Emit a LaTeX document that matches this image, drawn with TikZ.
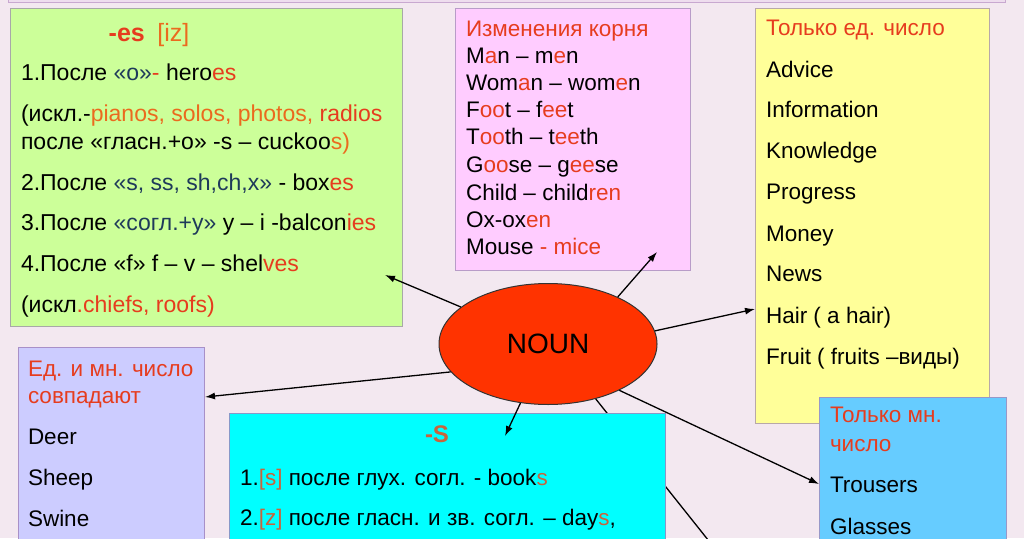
\documentclass[tikz,border=0pt]{standalone}
\usepackage{fontspec}
\setmainfont{Liberation Sans}
\usetikzlibrary{shapes.geometric,arrows.meta}
\definecolor{bgc}{HTML}{F3E8F0}
\definecolor{stripc}{HTML}{EEDDEE}
\definecolor{stripb}{HTML}{C8A8D0}
\definecolor{greenf}{HTML}{CCFF99}
\definecolor{greenb}{HTML}{A8A8A8}
\definecolor{pinkf}{HTML}{FFCCFF}
\definecolor{pinkb}{HTML}{B89CC8}
\definecolor{yellowf}{HTML}{FFFF99}
\definecolor{yellowb}{HTML}{B8A8A8}
\definecolor{lilacf}{HTML}{CCCCFF}
\definecolor{lilacb}{HTML}{A890C8}
\definecolor{cyanf}{HTML}{00FFFF}
\definecolor{cyanb}{HTML}{8898C8}
\definecolor{bluef}{HTML}{66CCFF}
\definecolor{blueb}{HTML}{9898C8}
\definecolor{nounf}{HTML}{FF3300}
\definecolor{hlred}{HTML}{E63C1E}
\definecolor{hlor}{HTML}{EB6A1E}
\definecolor{hlnavy}{HTML}{1E3A5A}
\definecolor{hlbrown}{HTML}{C8643C}
\newcommand\hlr[1]{\textcolor{hlred}{#1}}
\newcommand\hlo[1]{\textcolor{hlor}{#1}}
\newcommand\hln[1]{\textcolor{hlnavy}{#1}}
\newcommand\hlb[1]{\textcolor{hlbrown}{#1}}
\tikzset{
  boxst/.style={draw, line width=1pt, inner sep=0pt, outer sep=0pt, anchor=north west},
  txt/.style={anchor=west, inner sep=0pt, outer sep=0pt, text height=15.5pt, text depth=0pt,
    font=\fontsize{22.5}{26}\selectfont},
  gtxt/.style={txt, font=\fontsize{23}{27}\selectfont},
  arr/.style={line width=1.3pt, -{Latex[length=10pt,width=7pt]}},
}
\begin{document}
\begin{tikzpicture}[x=1pt,y=-1pt]
\useasboundingbox (0,0) rectangle (1024,538);
\clip (0,0) rectangle (1024,538);
\fill[bgc] (0,0) rectangle (1024,538);
% strip at top
\node[boxst, fill=stripc, draw=stripb, minimum width=997pt, minimum height=14pt] (strip) at (8,-12) {};

% green box
\node[boxst, fill=greenf, draw=greenb, minimum width=392pt, minimum height=318pt] (green) at (10,8) {};
\node[txt, anchor=center, font=\fontsize{25}{28}\selectfont, text height=18pt] (g0) at (149,32) {\hlr{\textbf{-es}}\hspace{0.5em}\hlo{[iz]}};
\node[gtxt] (g1) at (21,73) {1.После \hln{«o»}\hlr{-} hero\hlr{es}};
\node[gtxt] (g2) at (21,114) {(искл.-\hlo{pianos, solos, photos,} \hlr{radios}};
\node[gtxt] (g3) at (21,142) {после «гласн.+о» -s – cuckoo\hlo{s)}};
\node[gtxt] (g4) at (21,183) {2.После \hln{«s, ss, sh,ch,x»} - box\hlr{es}};
\node[gtxt] (g5) at (21,223) {3.После \hln{«согл.+y»} y – i -balcon\hlr{ies}};
\node[gtxt] (g6) at (21,264) {4.После «f» f – v – shel\hlr{ves}};
\node[gtxt] (g7) at (21,305) {(искл\hlr{.chiefs, roofs)}};

% pink box
\node[boxst, fill=pinkf, draw=pinkb, minimum width=235pt, minimum height=262pt] (pink) at (455,8) {};
\node[txt] (p0) at (466,29) {\hlr{Изменения корня}};
\node[txt] (p1) at (466,56) {M\hlr{a}n – m\hlr{e}n};
\node[txt] (p2) at (466,83) {Wom\hlr{a}n – wom\hlr{e}n};
\node[txt] (p3) at (466,110) {F\hlr{oo}t – f\hlr{ee}t};
\node[txt] (p4) at (466,137) {T\hlr{oo}th – t\hlr{ee}th};
\node[txt] (p5) at (466,165) {G\hlr{oo}se – g\hlr{ee}se};
\node[txt] (p6) at (466,193) {Child – child\hlr{ren}};
\node[txt] (p7) at (466,220) {Ox-ox\hlr{en}};
\node[txt] (p8) at (466,247) {Mouse \hlr{- mice}};

% yellow box
\node[boxst, fill=yellowf, draw=yellowb, minimum width=234pt, minimum height=415pt] (yellow) at (755,8) {};
\node[txt] (y0) at (766,28) {\hlr{Только ед. число}};
\node[txt] (y1) at (766,70) {Advice};
\node[txt] (y2) at (766,110) {Information};
\node[txt] (y3) at (766,151) {Knowledge};
\node[txt] (y4) at (766,192) {Progress};
\node[txt] (y5) at (766,234) {Money};
\node[txt] (y6) at (766,274) {News};
\node[txt] (y7) at (766,316) {Hair ( a hair)};
\node[txt] (y8) at (766,357) {Fruit ( fruits –виды)};

% lilac box
\node[boxst, fill=lilacf, draw=lilacb, minimum width=186pt, minimum height=220pt] (lilac) at (18,347) {};
\node[txt] (l0) at (28,369) {\hlr{Ед. и мн. число}};
\node[txt] (l1) at (28,396) {\hlr{совпадают}};
\node[txt] (l2) at (28,437) {Deer};
\node[txt] (l3) at (28,478) {Sheep};
\node[txt] (l4) at (28,519) {Swine};

% noun ellipse
\node[ellipse, draw=black!80, line width=1pt, fill=nounf, minimum width=218pt, minimum height=121pt,
  inner sep=0pt, font=\fontsize{28}{31}\selectfont] (noun) at (548,344) {NOUN};

% line passing under the cyan box
\coordinate (thid) at (728,565);
\draw[arr] (noun.311) -- (thid);

% cyan box
\node[boxst, fill=cyanf, draw=cyanb, minimum width=436pt, minimum height=160pt] (cyan) at (229,413) {};
\node[txt, anchor=center, font=\fontsize{24}{27}\selectfont\bfseries, text height=17pt] (c0) at (437,434) {\hlb{-S}};
\node[txt] (c1) at (240,478) {1.\hlb{[s]} после глух. согл. - book\hlb{s}};
\node[txt] (c2) at (240,518) {2.\hlb{[z]} после гласн. и зв. согл. – day\hlb{s},};

% blue box
\node[boxst, fill=bluef, draw=blueb, minimum width=187pt, minimum height=170pt] (blue) at (819,397) {};
\node[txt] (b0) at (830,415) {\hlr{Только мн.}};
\node[txt] (b1) at (830,444) {\hlr{число}};
\node[txt] (b2) at (830,485) {Trousers};
\node[txt] (b3) at (830,527) {Glasses};

% arrow targets
\coordinate (tgreen) at (385,275);
\coordinate (tpink) at (657,252);
\coordinate (tyellow) at (755,309);
\coordinate (tlilac) at (205,397);
\coordinate (tcyan) at (505,436);
\coordinate (tblue) at (819,484);

\draw[arr] (noun.157.6) -- (tgreen);
\draw[arr] (noun.34) -- (tpink);
\draw[arr] (noun.7.2) -- (tyellow);
\draw[arr] (noun.196.6) -- (tlilac);
\draw[arr] (noun.245.8) -- (tcyan);
\draw[arr] (noun.327.6) -- (tblue);
\end{tikzpicture}
\end{document}
